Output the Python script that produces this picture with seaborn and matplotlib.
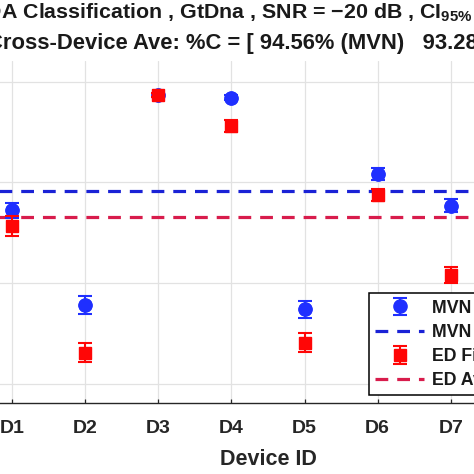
import numpy as np
import pandas as pd
import matplotlib
matplotlib.use("Agg")
import matplotlib.pyplot as plt
import seaborn as sns

# ---- data ----
devices = ["D1", "D2", "D3", "D4", "D5", "D6", "D7", "D8"]
mvn_pc = [93.61, 88.91, 99.34, 99.21, 88.70, 95.43, 93.85, 97.43]
mvn_ci = [0.37, 0.43, 0.12, 0.12, 0.43, 0.30, 0.34, 0.25]
ed_pc = [92.82, 86.55, 99.34, 97.81, 87.05, 94.36, 90.40, 97.91]
ed_ci = [0.50, 0.47, 0.12, 0.29, 0.48, 0.30, 0.40, 0.25]
mvn_ave = 94.56
ed_ave = 93.28
yticks = [85, 90, 95, 100]
legend_labels = ["MVN Per-Device", "MVN Ave", "ED Fixed", "ED Ave"]
title1 = "MDA Classification , GtDna , SNR = \u221220 dB , CI$_{\\mathregular{95\\%}}$"
title2 = "Cross-Device Ave: %C = [ 94.56% (MVN)   93.28% (ED) ]"

BLUE = "#1f2fff"
BLUE_LINE = "#1a22d6"
RED = "#ff0606"
RED_LINE = "#d81c4c"

sns.set_theme(style="whitegrid")
plt.rcParams["font.family"] = ["Liberation Sans", "DejaVu Sans"]
plt.rcParams["font.weight"] = "bold"
plt.rcParams["axes.labelweight"] = "bold"

W = 474.0
fig = plt.figure(figsize=(4.74, 4.74), dpi=100)
fig.patch.set_facecolor("white")
ax = fig.add_axes([-24.5 / W, 71 / W, 585 / W, 342 / W])
ax.set_facecolor("white")

df = pd.DataFrame({"dev": devices, "mvn": mvn_pc, "mvn_ci": mvn_ci,
                   "ed": ed_pc, "ed_ci": ed_ci})
df["x"] = np.arange(len(df))

h1 = ax.errorbar(df["x"], df["mvn"], yerr=df["mvn_ci"], fmt="o", color=BLUE,
                 ms=9.5, elinewidth=1.5, capsize=4.7, capthick=1.5, zorder=3)
sns.scatterplot(data=df, x="x", y="mvn", marker="o", s=90, color=BLUE,
                edgecolor=BLUE, linewidth=0.5, legend=False, ax=ax, zorder=3.1)
h2 = ax.axhline(mvn_ave, color=BLUE_LINE, lw=2.3, dashes=(4, 2.8), zorder=2.5)
h3 = ax.errorbar(df["x"], df["ed"], yerr=df["ed_ci"], fmt="s", color=RED,
                 ms=8, elinewidth=1.5, capsize=4.7, capthick=1.5, zorder=3.2)
sns.scatterplot(data=df, x="x", y="ed", marker="s", s=64, color=RED,
                edgecolor=RED, linewidth=0.5, legend=False, ax=ax, zorder=3.3)
h4 = ax.axhline(ed_ave, color=RED_LINE, lw=2.3, dashes=(4, 2.8), zorder=2.6)

ax.set_xlim(-0.5, len(devices) - 0.5)
ax.set_ylim(84.05, 101.03)
ax.set_xticks(df["x"])
ax.set_xticklabels(devices, fontsize=14, fontweight="bold", color="#262626")
ax.set_yticks(yticks)
ax.set_yticklabels([])
ax.set_xlabel("Device ID", fontsize=15.5, fontweight="bold", color="#262626",
              labelpad=8.3)
ax.set_ylabel("")
ax.grid(True, color="#e2e2e2", lw=0.9)
for s in ["top", "right", "left"]:
    ax.spines[s].set_visible(False)
ax.spines["bottom"].set_color("#262626")
ax.spines["bottom"].set_linewidth(1.0)
ax.tick_params(axis="x", direction="in", length=3, width=0.9, color="#262626",
               pad=12.3, bottom=True)
ax.tick_params(axis="y", length=0)

leg = ax.legend([h1, h2, h3, h4], legend_labels, loc="upper left",
                bbox_to_anchor=(369 / W, 1 - 293.3 / W), bbox_transform=fig.transFigure,
                borderaxespad=0, prop={"size": 12.8, "weight": "bold"},
                frameon=True, fancybox=False, framealpha=1, edgecolor="black",
                handlelength=2.75, handletextpad=0.46, labelspacing=0.4,
                borderpad=0.36)
leg.get_frame().set_linewidth(1.1)
for t in leg.get_texts():
    t.set_color("#1a1a1a")

# titles placed so the visible parts line up with the cropped reference
fig.canvas.draw()
r = fig.canvas.get_renderer()

def place(full, hidden, x_vis_px, y_base_px, size):
    t = fig.text(0, 0, hidden, fontsize=size, fontweight="bold")
    w = t.get_window_extent(r).width
    t.remove()
    fig.text((x_vis_px - w) / W, 1 - y_base_px / W, full, ha="left",
             va="baseline", fontsize=size, fontweight="bold", color="#1a1a1a")

place(title1, "MD", 1, 18.5, 15.4)
place(title2, "C", 3, 49.0, 15.8)

fig.savefig("out.png", dpi=100, facecolor="white")
